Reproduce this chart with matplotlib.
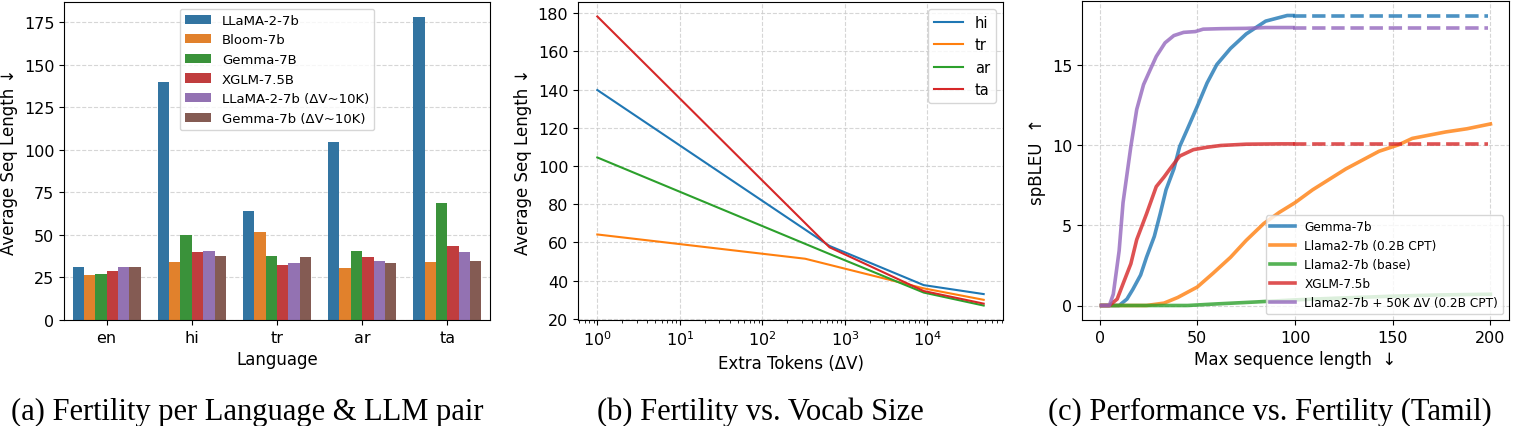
import numpy as np
import matplotlib.pyplot as plt

W, H = 1513, 427

# (a) fertility per language & model
languages = ["en", "hi", "tr", "ar", "ta"]
models = ["LLaMA-2-7b", "Bloom-7b", "Gemma-7B", "XGLM-7.5B",
          "LLaMA-2-7b (ΔV~10K)", "Gemma-7b (ΔV~10K)"]
fert = {
    "LLaMA-2-7b": [31.0, 139.8, 64.3, 104.4, 178.1],
    "Bloom-7b": [26.5, 34.2, 51.9, 30.7, 34.2],
    "Gemma-7B": [27.0, 50.1, 37.8, 40.7, 69.0],
    "XGLM-7.5B": [29.0, 40.1, 32.4, 37.2, 43.6],
    "LLaMA-2-7b (ΔV~10K)": [31.3, 40.7, 33.6, 34.8, 40.1],
    "Gemma-7b (ΔV~10K)": [31.3, 37.8, 37.2, 33.6, 34.8],
}
bar_colors = ["#3274a1", "#e1812c", "#3a923a", "#c03d3e", "#9372b2", "#845b53"]

# (b) fertility vs extra vocab
dv_hi = [1, 650, 9000, 48000]
len_hi = [139.8, 58.2, 37.7, 33.0]
dv_tr = [1, 330, 9000, 48000]
len_tr = [64.2, 51.5, 36.0, 30.0]
dv_ar = [1, 650, 9000, 48000]
len_ar = [104.5, 54.0, 33.8, 27.0]
dv_ta = [1, 650, 9000, 48000]
len_ta = [178.3, 57.5, 34.6, 28.0]

# (c) spBLEU vs max sequence length (Tamil)
gem_x = [1, 10, 14, 17, 21, 24, 28, 31, 34, 38, 41, 45, 50, 55, 60, 67, 75, 85, 96, 99]
gem_y = [0, 0, 0.4, 1.0, 1.9, 3.0, 4.3, 5.7, 7.2, 8.5, 9.9, 11.0, 12.4, 13.85, 15.0,
         16.0, 16.9, 17.7, 18.05, 18.05]
gem_x_dash = [99, 199]
gem_y_dash = [18.05, 18.05]

cpt_x = [1, 24, 33, 40, 50, 58, 67, 75, 84, 92, 100, 109, 126, 143, 153, 160, 177, 188, 200]
cpt_y = [0, 0, 0.15, 0.5, 1.15, 2.0, 3.0, 4.05, 5.1, 5.8, 6.4, 7.2, 8.5, 9.6, 10.0, 10.4,
         10.8, 11.0, 11.3]

base_x = [1, 45, 60, 80, 100, 120, 150, 175, 200]
base_y = [0, 0, 0.1, 0.22, 0.35, 0.45, 0.58, 0.66, 0.7]

xglm_x = [1, 5, 9, 12, 16, 19, 24, 29, 33, 36, 41, 48, 55, 62, 75, 92, 99]
xglm_y = [0, 0, 0.4, 1.35, 2.6, 4.1, 5.7, 7.4, 8.0, 8.5, 9.3, 9.7, 9.85, 9.96, 10.04,
          10.06, 10.06]
xglm_x_dash = [99, 199]
xglm_y_dash = [10.06, 10.06]

ext_x = [1, 5, 7, 10, 12, 16, 19, 22.5, 26, 29, 33.5, 38, 43, 49, 53, 62, 75, 85, 99]
ext_y = [0, 0, 0.7, 3.4, 6.4, 9.9, 12.2, 13.75, 14.7, 15.5, 16.35, 16.8, 17.0, 17.05,
         17.2, 17.23, 17.25, 17.3, 17.3]
ext_x_dash = [99, 199]
ext_y_dash = [17.3, 17.3]

plt.rcParams["font.family"] = "DejaVu Sans"
fig = plt.figure(figsize=(W / 100, H / 100), dpi=100)


def box(l, r, t, b):
    return [l / W, (H - b) / H, (r - l) / W, (b - t) / H]


grid_kw = dict(linestyle="--", color="#cccccc", linewidth=0.8, alpha=0.8)

# ---- panel a
ax1 = fig.add_axes(box(64, 490, 3, 321))
x = np.arange(len(languages))
bw = 0.8 / len(models)
for i, m in enumerate(models):
    ax1.bar(x - 0.4 + bw * (i + 0.5), fert[m], width=bw, color=bar_colors[i],
            label=m, zorder=2)
ax1.set_xlim(-0.5, len(languages) - 0.5)
ax1.set_xticks(x)
ax1.set_xticklabels(languages)
ax1.set_yticks([0, 25, 50, 75, 100, 125, 150, 175])
ax1.grid(axis="y", **grid_kw)
ax1.set_axisbelow(True)
ax1.set_xlabel("Language", fontsize=12)
ax1.set_ylabel("Average Seq Length ↓", fontsize=12)
ax1.tick_params(labelsize=11.5)
ax1.legend(loc="upper center", fontsize=9.5, bbox_to_anchor=(0.5, 1.0))

# ---- panel b
ax2 = fig.add_axes(box(578, 1003, 3, 321))
ax2.plot(dv_hi, len_hi, label="hi", color="tab:blue", lw=1.5)
ax2.plot(dv_tr, len_tr, label="tr", color="tab:orange", lw=1.5)
ax2.plot(dv_ar, len_ar, label="ar", color="tab:green", lw=1.5)
ax2.plot(dv_ta, len_ta, label="ta", color="tab:red", lw=1.5)
ax2.set_xscale("log")
ax2.set_yticks([20, 40, 60, 80, 100, 120, 140, 160, 180])
ax2.grid(True, **grid_kw)
ax2.set_xlabel("Extra Tokens (ΔV)", fontsize=12)
ax2.set_ylabel("Average Seq Length ↓", fontsize=12)
ax2.tick_params(labelsize=11.5)
ax2.legend(loc="upper right", fontsize=10.5)

# ---- panel c
ax3 = fig.add_axes(box(1082, 1509, 2, 321))
lw = 2.6
ax3.plot(gem_x, gem_y, color="tab:blue", lw=lw, alpha=0.8, label="Gemma-7b")
ax3.plot(cpt_x, cpt_y, color="tab:orange", lw=lw, alpha=0.8, label="Llama2-7b (0.2B CPT)")
ax3.plot(base_x, base_y, color="tab:green", lw=lw, alpha=0.8, label="Llama2-7b (base)")
ax3.plot(xglm_x, xglm_y, color="tab:red", lw=lw, alpha=0.8, label="XGLM-7.5b")
ax3.plot(ext_x, ext_y, color="tab:purple", lw=lw, alpha=0.8,
         label="Llama2-7b + 50K ΔV (0.2B CPT)")
ax3.plot(gem_x_dash, gem_y_dash, color="tab:blue", lw=lw, alpha=0.8, ls="--")
ax3.plot(xglm_x_dash, xglm_y_dash, color="tab:red", lw=lw, alpha=0.8, ls="--")
ax3.plot(ext_x_dash, ext_y_dash, color="tab:purple", lw=lw, alpha=0.8, ls="--")
ax3.set_xlim(-9, 209.5)
ax3.set_xticks([0, 50, 100, 150, 200])
ax3.set_yticks([0, 5, 10, 15])
ax3.grid(True, **grid_kw)
ax3.set_xlabel("Max sequence length  ↓", fontsize=12)
ax3.set_ylabel("spBLEU  ↑", fontsize=12)
ax3.tick_params(labelsize=11.5)
ax3.legend(loc="lower right", fontsize=8.7)

# captions
cap_kw = dict(family="Liberation Serif", fontsize=22, ha="center", va="baseline")
fig.text(247 / W, 7 / H, "(a) Fertility per Language & LLM pair", **cap_kw)
fig.text(760 / W, 7 / H, "(b) Fertility vs. Vocab Size", **cap_kw)
fig.text(1270 / W, 7 / H, "(c) Performance vs. Fertility (Tamil)", **cap_kw)

fig.savefig("out.png", dpi=100)
